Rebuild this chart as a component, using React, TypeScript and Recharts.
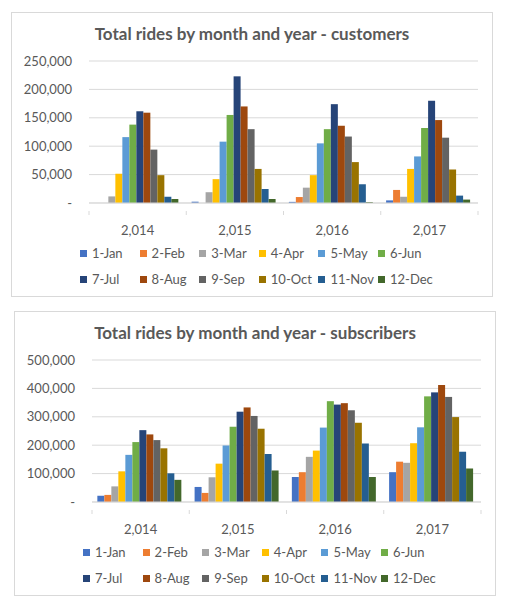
import React from 'react';
import { BarChart, Bar, XAxis, YAxis, CartesianGrid } from 'recharts';

const YEARS = ['2,014', '2,015', '2,016', '2,017'];
const MONTHS = ['1-Jan', '2-Feb', '3-Mar', '4-Apr', '5-May', '6-Jun', '7-Jul', '8-Aug', '9-Sep', '10-Oct', '11-Nov', '12-Dec'];
const COLORS = ['#4472C4', '#ED7D31', '#A5A5A5', '#FFC000', '#5B9BD5', '#70AD47', '#264478', '#9E480E', '#636363', '#997300', '#255E91', '#43682B'];

// customers, values per month (Jan..Dec) for each year
const CUSTOMERS_2014 = [0, 0, 11600, 51500, 116000, 138000, 161500, 159000, 94000, 49000, 11000, 7000];
const CUSTOMERS_2015 = [2300, 0, 19000, 42000, 108000, 155000, 223000, 170000, 130000, 60000, 24600, 7000];
const CUSTOMERS_2016 = [2000, 10500, 27000, 49000, 105000, 130000, 174000, 136000, 117000, 72000, 33000, 1500];
const CUSTOMERS_2017 = [4600, 23000, 11000, 60000, 82000, 132000, 180000, 146000, 115000, 59000, 13000, 6000];

// subscribers, values per month (Jan..Dec) for each year
const SUBSCRIBERS_2014 = [22000, 25000, 55000, 108000, 166000, 211000, 253000, 238000, 218000, 189000, 101000, 78000];
const SUBSCRIBERS_2015 = [53000, 32000, 87000, 135000, 199000, 265000, 318000, 333000, 303000, 258000, 169000, 111000];
const SUBSCRIBERS_2016 = [88000, 105000, 159000, 181000, 262000, 355000, 343000, 348000, 323000, 279000, 206000, 88000];
const SUBSCRIBERS_2017 = [105000, 142000, 138000, 207000, 263000, 372000, 386000, 412000, 370000, 299000, 177000, 118000];

const CUSTOMER_TICKS = [0, 50000, 100000, 150000, 200000, 250000];
const SUBSCRIBER_TICKS = [0, 100000, 200000, 300000, 400000, 500000];

const buildRows = (byYear: number[][]) =>
  YEARS.map((year, yi) => {
    const row: Record<string, string | number> = { year };
    MONTHS.forEach((m, mi) => {
      row[m] = byYear[yi][mi];
    });
    return row;
  });

const customerRows = buildRows([CUSTOMERS_2014, CUSTOMERS_2015, CUSTOMERS_2016, CUSTOMERS_2017]);
const subscriberRows = buildRows([SUBSCRIBERS_2014, SUBSCRIBERS_2015, SUBSCRIBERS_2016, SUBSCRIBERS_2017]);

const TEXT = '#595959';
const GRID = '#D9D9D9';
const FONT = 'Lato, "Open Sans", sans-serif';

const BOX_W = 482;
const BOX_H = 285;
const M_LEFT = 0;
const Y_W = 78;
const M_RIGHT = 15;
const BAND = (BOX_W - M_LEFT - Y_W - M_RIGHT) / YEARS.length;

const fmt = (v: number) => (v === 0 ? '-' : v.toLocaleString('en-US'));

const XTick = (props: any) => {
  const { x, y, payload, index } = props;
  const half = BAND / 2;
  return (
    <g>
      <line x1={x - half} x2={x - half} y1={y} y2={y + 4} stroke={GRID} />
      {index === YEARS.length - 1 && <line x1={x + half} x2={x + half} y1={y} y2={y + 4} stroke={GRID} />}
      <text x={x} y={y + 15} dy="0.71em" textAnchor="middle" fill={TEXT} fontSize={13} fontFamily={FONT}>
        {payload.value}
      </text>
    </g>
  );
};

const LegendBlock = () => (
  <div style={{ position: 'absolute', left: 0, top: 0, width: '100%', height: '100%', pointerEvents: 'none' }}>
    {MONTHS.map((m, i) => {
      const col = i % 6;
      const row = Math.floor(i / 6);
      return (
        <div
          key={m}
          style={{
            position: 'absolute',
            left: 68 + col * 59.6,
            top: 240 + row * 26 - 9,
            height: 18,
            display: 'flex',
            alignItems: 'center',
            whiteSpace: 'nowrap',
          }}
        >
          <span style={{ display: 'inline-block', width: 7, height: 7, background: COLORS[i], marginRight: 5 }} />
          <span style={{ fontFamily: FONT, fontSize: 13, color: TEXT }}>{m}</span>
        </div>
      );
    })}
  </div>
);

const ChartBox = ({ title, rows, ticks, left, top }: { title: string; rows: any[]; ticks: number[]; left: number; top: number }) => (
  <div
    style={{
      position: 'absolute',
      left,
      top,
      width: BOX_W,
      height: BOX_H,
      border: `1px solid ${GRID}`,
      boxSizing: 'border-box',
      background: '#fff',
    }}
  >
    <div
      style={{
        position: 'absolute',
        left: 0,
        width: '100%',
        top: 10,
        textAlign: 'center',
        fontFamily: FONT,
        fontWeight: 700,
        fontSize: 17,
        color: TEXT,
        lineHeight: '22px',
      }}
    >
      {title}
    </div>
    <div style={{ position: 'absolute', left: -1, top: -1 }}>
      <BarChart
        width={BOX_W}
        height={BOX_H}
        data={rows}
        margin={{ top: 49, right: M_RIGHT, left: M_LEFT, bottom: BOX_H - 191 - 30 }}
        barCategoryGap="5.5%"
        barGap={0}
      >
        <CartesianGrid vertical={false} stroke={GRID} />
        <XAxis
          dataKey="year"
          axisLine={{ stroke: GRID }}
          tickLine={false}
          tick={<XTick />}
          height={30}
          interval={0}
        />
        <YAxis
          width={Y_W}
          ticks={ticks}
          domain={[ticks[0], ticks[ticks.length - 1]]}
          axisLine={false}
          tickLine={false}
          tickSize={0}
          tickMargin={17}
          tickFormatter={fmt}
          tick={{ fill: TEXT, fontSize: 13, fontFamily: FONT }}
          interval={0}
        />
        {MONTHS.map((m, i) => (
          <Bar key={m} dataKey={m} fill={COLORS[i]} isAnimationActive={false} />
        ))}
      </BarChart>
    </div>
    <LegendBlock />
  </div>
);

export default function App() {
  return (
    <div style={{ position: 'relative', width: 494, height: 591 }}>
      <ChartBox title="Total rides by month and year - customers" rows={customerRows} ticks={CUSTOMER_TICKS} left={3} top={4} />
      <ChartBox title="Total rides by month and year - subscribers" rows={subscriberRows} ticks={SUBSCRIBER_TICKS} left={6} top={303} />
    </div>
  );
}
